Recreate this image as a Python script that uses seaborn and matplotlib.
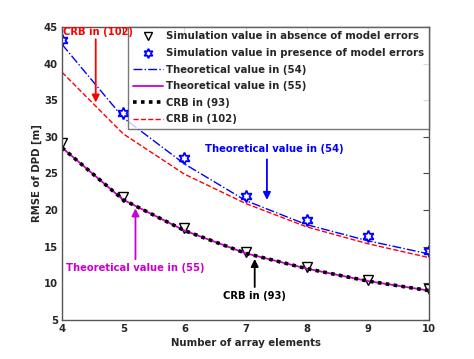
import numpy as np
import pandas as pd
import matplotlib
matplotlib.use("Agg")
import matplotlib.pyplot as plt
import seaborn as sns

# Data
n_elements = [4, 5, 6, 7, 8, 9, 10]
sim_absence = [29.1, 21.8, 17.5, 14.2, 12.2, 10.4, 9.2]
sim_presence = [43.2, 33.2, 27.1, 21.9, 18.6, 16.5, 14.4]
theory_54 = [42.6, 32.6, 26.3, 21.3, 18.0, 15.8, 14.0]
theory_55 = [28.5, 21.4, 17.2, 14.1, 12.0, 10.3, 9.0]
crb_93 = [28.5, 21.4, 17.2, 14.1, 12.0, 10.3, 9.0]
crb_102 = [38.8, 30.4, 24.9, 20.9, 17.7, 15.4, 13.5]

legend_labels = [
    "Simulation value in absence of model errors",
    "Simulation value in presence of model errors",
    "Theoretical value in (54)",
    "Theoretical value in (55)",
    "CRB in (93)",
    "CRB in (102)",
]

sns.set_style("white")
plt.rcParams["font.family"] = ["DejaVu Sans"]
plt.rcParams["font.weight"] = "bold"

fig = plt.figure(figsize=(4.74, 3.59), dpi=100)
ax = fig.add_axes([0.131, 0.109, 0.774, 0.816])

df = pd.DataFrame({"n": n_elements, "abs": sim_absence, "pres": sim_presence,
                   "t54": theory_54, "t55": theory_55, "c93": crb_93, "c102": crb_102})

sns.lineplot(data=df, x="n", y="abs", ax=ax, color="black", linestyle="none",
             marker="v", markersize=7, markerfacecolor="none", markeredgecolor="black",
             markeredgewidth=1.0, label=legend_labels[0])
hexagram = (6, 1, 0)
sns.lineplot(data=df, x="n", y="pres", ax=ax, color="blue", linestyle="none",
             marker=hexagram, markersize=8.5, markerfacecolor="none", markeredgecolor="blue",
             markeredgewidth=1.3, label=legend_labels[1])
sns.lineplot(data=df, x="n", y="t54", ax=ax, color="blue", linestyle="-.",
             linewidth=1.0, label=legend_labels[2])
sns.lineplot(data=df, x="n", y="t55", ax=ax, color="#cc00cc", linestyle="-",
             linewidth=1.3, label=legend_labels[3])
sns.lineplot(data=df, x="n", y="c93", ax=ax, color="black", linestyle=(0, (1, 1.2)),
             linewidth=2.6, label=legend_labels[4])
sns.lineplot(data=df, x="n", y="c102", ax=ax, color="red", linestyle="--",
             linewidth=1.0, label=legend_labels[5])

ax.set_xlim(4, 10)
ax.set_ylim(5, 45)
ax.set_xticks(range(4, 11))
ax.set_yticks(range(5, 46, 5))
ax.tick_params(direction="in", length=4, labelsize=7.2, top=True, right=True,
               color="#444444", pad=3)
for lab in ax.get_xticklabels() + ax.get_yticklabels():
    lab.set_fontweight("bold")
for s in ax.spines.values():
    s.set_color("#555555")
    s.set_linewidth(1.0)
ax.set_xlabel("Number of array elements", fontsize=7.3, fontweight="bold", labelpad=3)
ax.set_ylabel("RMSE of DPD [m]", fontsize=7.3, fontweight="bold", labelpad=1.5)

leg = ax.legend(loc="upper right", frameon=True, fancybox=False,
                borderaxespad=0, handlelength=3.0, handletextpad=0.3,
                labelspacing=0.65, borderpad=0.45, markerscale=0.8,
                prop={"weight": "bold", "size": 7.3})
leg.get_frame().set_edgecolor("#555555")
leg.get_frame().set_linewidth(1.0)

# annotations
ax.text(4.02, 44.3, "CRB in (102)", color="red", fontsize=7.2, fontweight="bold",
        ha="left", va="center", zorder=10)
ax.annotate("", xy=(4.55, 34.3), xytext=(4.55, 43.7),
            arrowprops=dict(arrowstyle="-|>", color="red", lw=1.3, mutation_scale=11),
            zorder=10)
ax.text(6.33, 28.3, "Theoretical value in (54)", color="blue", fontsize=7.2,
        fontweight="bold", ha="left", va="center")
ax.annotate("", xy=(7.35, 21.0), xytext=(7.35, 27.3),
            arrowprops=dict(arrowstyle="-|>", color="blue", lw=1.3, mutation_scale=11))
ax.text(5.2, 12.1, "Theoretical value in (55)", color="#cc00cc", fontsize=7.2,
        fontweight="bold", ha="center", va="center")
ax.annotate("", xy=(5.2, 20.6), xytext=(5.2, 12.9),
            arrowprops=dict(arrowstyle="-|>", color="#cc00cc", lw=1.3, mutation_scale=11))
ax.text(7.15, 8.3, "CRB in (93)", color="black", fontsize=7.2, fontweight="bold",
        ha="center", va="center")
ax.annotate("", xy=(7.15, 13.7), xytext=(7.15, 9.1),
            arrowprops=dict(arrowstyle="-|>", color="black", lw=1.3, mutation_scale=11))

fig.savefig("out.png", dpi=100)
